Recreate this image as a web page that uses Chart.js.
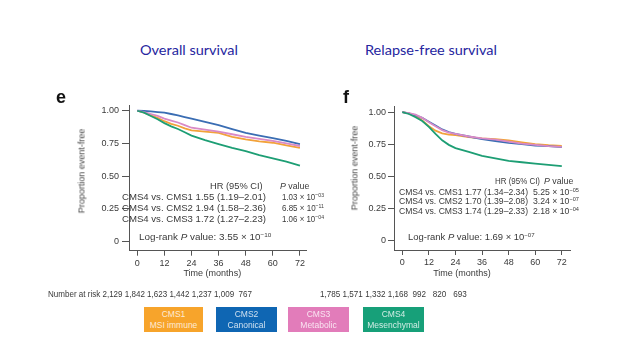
<!DOCTYPE html>
<html><head><meta charset="utf-8">
<script src="https://cdn.jsdelivr.net/npm/chart.js@4.4.1/dist/chart.umd.min.js"></script>
<style>
html,body{margin:0;padding:0;}
body{width:638px;height:359px;background:#fff;position:relative;overflow:hidden;font-family:"Liberation Sans",Arial,sans-serif;color:#3a3a3a;}
.t{position:absolute;white-space:nowrap;line-height:1;}
canvas{position:absolute;}
.box{position:absolute;top:307px;height:25px;text-align:center;color:rgba(255,255,255,0.8);font-size:8.5px;line-height:10.5px;padding-top:2px;box-sizing:border-box;}
sup{font-size:0.65em;vertical-align:0;position:relative;top:-0.5em;}
</style></head>
<body>
<canvas id="c1" width="260" height="200" style="left:60px;top:95px;width:260px;height:200px"></canvas>
<canvas id="c2" width="260" height="200" style="left:330px;top:95px;width:260px;height:200px"></canvas>
<div id="txt"></div>
<script>
// ---- data ----
const months = [0,3,6,9,12,15,18,21,24,30,36,42,48,54,60,66,72];
const seriesNames = ['CMS1','CMS2','CMS3','CMS4'];
const seriesSub = ['MSI immune','Canonical','Metabolic','Mesenchymal'];
// Overall survival
const osCMS1 = [1.00,0.985,0.965,0.945,0.92,0.90,0.885,0.865,0.85,0.84,0.83,0.80,0.78,0.765,0.755,0.735,0.715];
const osCMS2 = [1.00,0.998,0.995,0.99,0.985,0.975,0.965,0.952,0.94,0.915,0.89,0.86,0.83,0.81,0.79,0.77,0.745];
const osCMS3 = [1.00,0.99,0.975,0.96,0.94,0.925,0.91,0.89,0.87,0.855,0.84,0.82,0.80,0.785,0.77,0.75,0.73];
const osCMS4 = [1.00,0.985,0.96,0.935,0.905,0.88,0.86,0.835,0.81,0.775,0.745,0.715,0.69,0.66,0.635,0.61,0.58];
// Relapse-free survival
const rfsCMS1 = [1.00,0.99,0.97,0.935,0.89,0.855,0.835,0.825,0.82,0.805,0.795,0.79,0.78,0.765,0.75,0.742,0.737];
const rfsCMS2 = [1.00,0.99,0.975,0.955,0.925,0.895,0.865,0.845,0.83,0.81,0.79,0.775,0.76,0.75,0.74,0.735,0.727];
const rfsCMS3 = [1.00,0.992,0.98,0.955,0.92,0.89,0.86,0.84,0.83,0.81,0.795,0.785,0.77,0.755,0.745,0.735,0.73];
const rfsCMS4 = [1.00,0.985,0.96,0.93,0.885,0.83,0.78,0.745,0.72,0.69,0.66,0.64,0.62,0.61,0.60,0.59,0.58];
const xTicks = [0,12,24,36,48,60,72];
const yTicks = [0,0.25,0.5,0.75,1];
const yTickLabels = ['0','0.25','0.50','0.75','1.00'];
const riskOS = ['2,129','1,842','1,623','1,442','1,237','1,009',' 767'];
const riskRFS = ['1,785','1,571','1,332','1,168',' 992 ',' 820 ',' 693'];
const osTable = [['CMS4 vs. CMS1','1.55 (1.19–2.01)','1.03','−03'],['CMS4 vs. CMS2','1.94 (1.58–2.36)','6.85','−11'],['CMS4 vs. CMS3','1.72 (1.27–2.23)','1.06','−04']];
const rfsTable = [['CMS4 vs. CMS1','1.77 (1.34–2.34)','5.25','−05'],['CMS4 vs. CMS2','1.70 (1.39–2.08)','3.24','−07'],['CMS4 vs. CMS3','1.74 (1.29–2.33)','2.18','−04']];
const osLogrank = ['3.55','−10'];
const rfsLogrank = ['1.69','−07'];

const lineColors = ['#F2A23A','#3A6DB3','#D98AC6','#1D9E74'];
const boxColors = ['#F7A42B','#0F66B3','#E27CBA','#17A079'];

function mk(id, vals, g){
  const ds = vals.map((v,k)=>({
    data: months.map((m,i)=>({x:m,y:v[i]})),
    borderColor: lineColors[k], borderWidth: 1.8, pointRadius: 0, fill:false, tension:0
  })).reverse();
  new Chart(document.getElementById(id), {
    type:'line',
    data:{datasets:ds},
    options:{
      responsive:false, animation:false, devicePixelRatio:1,
      layout:{padding:{top:g.pt,right:g.pr,bottom:0,left:0}},
      plugins:{legend:{display:false},tooltip:{enabled:false}},
      scales:{
        x:{type:'linear',min:g.xmin,max:g.xmax,
          afterBuildTicks:s=>{s.ticks = xTicks.map(v=>({value:v}));},
          afterFit:s=>{s.height = g.xh;},
          grid:{display:true,drawOnChartArea:false,drawTicks:true,tickLength:5,color:'#555',tickColor:'#555'},
          border:{display:true,color:'#555',width:1},
          ticks:{font:{family:'Liberation Sans',size:g.fs},color:'#3a3a3a',padding:2,maxRotation:0,autoSkip:false}
        },
        y:{type:'linear',min:g.ymin,max:g.ymax,
          afterBuildTicks:s=>{s.ticks = yTicks.map(v=>({value:v}));},
          afterFit:s=>{s.width = g.yw;},
          grid:{display:true,drawOnChartArea:false,drawTicks:true,tickLength:g.tl,color:'#555',tickColor:'#555'},
          border:{display:true,color:'#555',width:1},
          ticks:{font:{family:'Liberation Sans',size:g.fs},color:'#3a3a3a',padding:g.lp,
            callback:(v)=>{const i=yTicks.indexOf(v);return i>=0?yTickLabels[i]:'';}}
        }
      }
    }
  });
}
mk('c1',[osCMS1,osCMS2,osCMS3,osCMS4],{xmin:-3.67,xmax:75,ymin:-0.072,ymax:1.044,pt:10,pr:13.3,xh:44.3,yw:69,tl:7,lp:3,fs:9});
mk('c2',[rfsCMS1,rfsCMS2,rfsCMS3,rfsCMS4],{xmin:-3.75,xmax:75.7,ymin:-0.072,ymax:1.047,pt:11,pr:20,xh:45,yw:64,tl:6,lp:2,fs:9});

// ---- text ----
const root = document.getElementById('txt');
function put(html, x, y, o){
  o = o||{};
  const d = document.createElement('div');
  d.className='t'; d.innerHTML = html;
  d.style.left = x+'px'; d.style.top = y+'px';
  d.style.fontSize = (o.fs||9)+'px';
  if(o.family) d.style.fontFamily = o.family;
  if(o.color) d.style.color = o.color;
  if(o.weight) d.style.fontWeight = o.weight;
  let tf = 'translateY(-50%)';
  if(o.center) tf = 'translate(-50%,-50%)';
  if(o.rot) tf = 'translate(-50%,-50%) rotate(-90deg)';
  d.style.transform = tf;
  root.appendChild(d);
  if(o.width){
    const w = d.getBoundingClientRect().width;
    d.style.transformOrigin = 'left center';
    d.style.transform = tf + ' scaleX(' + (o.width/w) + ')';
  }
  return d;
}
const titleFont = 'Lato, "Open Sans", sans-serif';
put('Overall survival',140,50,{fs:14,family:titleFont,color:'#2626A0',width:98});
put('Relapse-free survival',365,50,{fs:14,family:titleFont,color:'#2626A0',width:132});
put('e',61,97,{fs:18,weight:'bold',color:'#111',center:true});
put('f',346,97,{fs:18,weight:'bold',color:'#111',center:true});

// axis titles
put('Proportion event-free',82,171,{fs:9,rot:true,color:'#444'});
put('Proportion event-free',355,168,{fs:9,rot:true,color:'#444'});
put('Time (months)',212.3,273,{fs:9,center:true});
put('Time (months)',462,272.7,{fs:9,center:true});

// tables
const sup = (a,b)=>a+' × 10<sup>'+b+'</sup>';
put('HR (95% CI)',210,186,{fs:9,width:52.7});
put('<i>P</i> value',280,186,{fs:9,width:29.3});
const osRows=[197.3,208,218.7];
osTable.forEach((r,i)=>{
  put(r[0]+' '+r[1],121.7,osRows[i],{fs:9.5,width:144});
  put(sup(r[2],r[3]),281.7,osRows[i],{fs:9.5,width:42});
});
put('Log-rank <i>P</i> value: '+sup(osLogrank[0],osLogrank[1]),139.3,236.7,{fs:9.5,width:132.3});

put('HR (95% CI)',495,181,{fs:8.5,width:45});
put('<i>P</i> value',544,181,{fs:8.5,width:29.3});
const rfsRows=[191.5,201,210.7];
rfsTable.forEach((r,i)=>{
  put(r[0]+' '+r[1],399.3,rfsRows[i],{fs:9,width:129});
  put(sup(r[2],r[3]),533.3,rfsRows[i],{fs:9,width:46});
});
put('Log-rank <i>P</i> value: '+sup(rfsLogrank[0],rfsLogrank[1]),408.3,236.7,{fs:9,width:126.7});

// number at risk
put(('Number at risk '+riskOS.join(' ')).replace(/ /g,'&nbsp;'),47.7,294,{fs:9,width:204});
put(riskRFS.join(' ').replace(/ /g,'&nbsp;'),320,294,{fs:9,width:146.7});

// legend boxes
const boxX=[[144,203],[216,277],[288,349],[363,424]];
boxX.forEach((b,i)=>{
  const d=document.createElement('div');
  d.className='box';
  d.style.left=b[0]+'px'; d.style.width=(b[1]-b[0])+'px';
  d.style.background=boxColors[i];
  d.innerHTML=seriesNames[i]+'<br>'+seriesSub[i];
  root.appendChild(d);
});
</script>
</body></html>
